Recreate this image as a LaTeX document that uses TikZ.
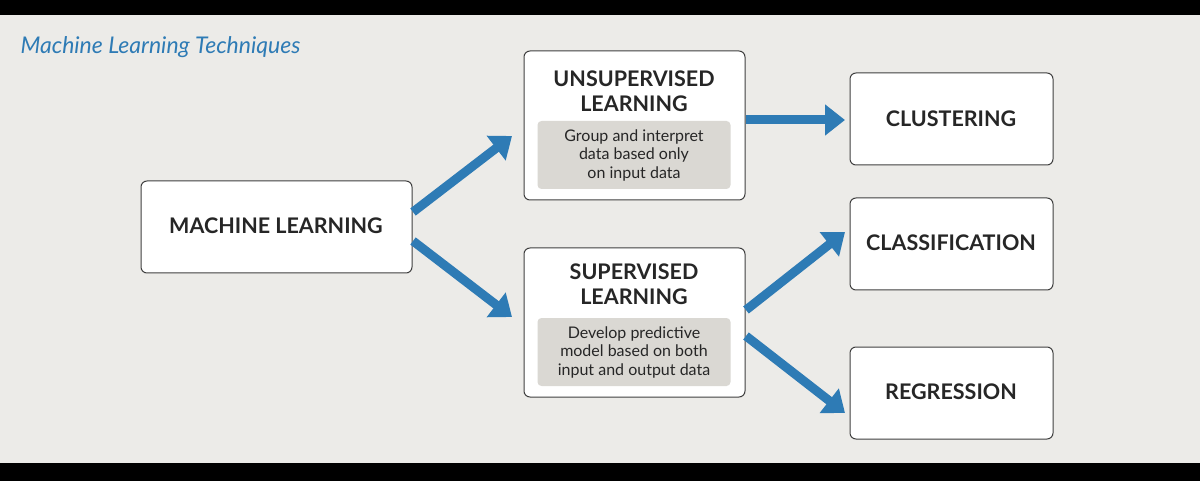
\documentclass[tikz,border=0pt]{standalone}
\usepackage{fontspec}
\setmainfont{Lato}
\usetikzlibrary{arrows.meta}
\definecolor{bg}{HTML}{ECEBE8}
\definecolor{arr}{HTML}{2E7BB5}
\definecolor{inner}{HTML}{DAD8D3}
\begin{document}
\begin{tikzpicture}[x=1pt,y=-1pt,
  box/.style={draw=black!75,line width=1pt,fill=white,rounded corners=6pt},
  ttl/.style={font=\fontsize{21.5}{25}\selectfont\bfseries,text=black!85,align=center},
  sub/.style={fill=inner,rounded corners=4pt,font=\fontsize{16}{18.5}\selectfont,text=black!85,align=center},
  ar/.style={draw=arr,line width=9pt,-{Triangle[length=20pt,width=30pt]}}]
\useasboundingbox (0,0) rectangle (1200,481);
\fill[black] (0,0) rectangle (1200,15);
\fill[bg] (0,15) rectangle (1200,463);
\fill[black] (0,463) rectangle (1200,481);
\node[anchor=west,text=arr,font=\fontsize{23}{27}\selectfont\itshape] (t) at (17,47) {Machine Learning Techniques};
% boxes
\draw[box] (141,181) rectangle (412,273);
\node[ttl] (ml) at (276,226) {MACHINE LEARNING};
\draw[box] (524,51) rectangle (745,200);
\node[ttl] (un) at (634,91) {UNSUPERVISED\\LEARNING};
\node[sub,minimum width=193pt,minimum height=68pt] (und) at (634,155) {Group and interpret\\data based only\\on input data};
\draw[box] (524,248) rectangle (745,397);
\node[ttl] (su) at (634,284) {SUPERVISED\\LEARNING};
\node[sub,minimum width=193pt,minimum height=68pt] (sud) at (634,352) {Develop predictive\\model based on both\\input and output data};
\draw[box] (850,73) rectangle (1053,165);
\node[ttl] (cl) at (951,119) {CLUSTERING};
\draw[box] (850,198) rectangle (1053,290);
\node[ttl] (ca) at (951,243) {CLASSIFICATION};
\draw[box] (850,347) rectangle (1053,439);
\node[ttl] (re) at (951,392) {REGRESSION};
% arrows
\coordinate (a1) at (413,212); \coordinate (b1) at (512,136);
\coordinate (a2) at (413,241); \coordinate (b2) at (512,317);
\coordinate (a3) at (746,120); \coordinate (b3) at (845,120);
\coordinate (a4) at (746,310); \coordinate (b4) at (845,232);
\coordinate (a5) at (746,336); \coordinate (b5) at (845,413);
\draw[ar] (a1) -- (b1);
\draw[ar] (a2) -- (b2);
\draw[ar] (a3) -- (b3);
\draw[ar] (a4) -- (b4);
\draw[ar] (a5) -- (b5);
\end{tikzpicture}
\end{document}
